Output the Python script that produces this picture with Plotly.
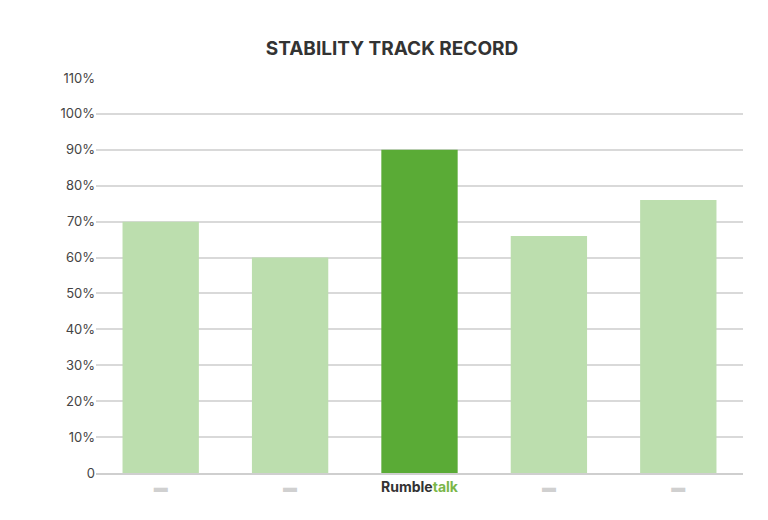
import plotly.graph_objects as go

categories = ["a", "b", "c", "d", "e"]
tick_labels = [
    "<span style='color:#d0d0d0'>▬</span>",
    "<span style='color:#d0d0d0'>▬</span>",
    "<b><span style='color:#333333'>Rumble</span><span style='color:#7ab648'>talk</span></b>",
    "<span style='color:#d0d0d0'>▬</span>",
    "<span style='color:#d0d0d0'>▬</span>",
]
values = [70, 60, 90, 66, 76]
colors = ["#bcdeae", "#bcdeae", "#5aab36", "#bcdeae", "#bcdeae"]

fig = go.Figure(go.Bar(x=categories, y=values, marker_color=colors, marker_line_width=0))

fig.update_layout(
    width=768, height=520,
    margin=dict(l=88, r=33, t=70, b=55),
    plot_bgcolor="white", paper_bgcolor="white",
    bargap=0.41,
    showlegend=False,
    title=dict(text="<b>STABILITY TRACK RECORD</b>", x=0.5, xanchor="center", y=0.935,
               font=dict(family="Inter", size=19, color="#333333")),
    font=dict(family="Inter", color="#444444"),
)
fig.update_yaxes(
    range=[0, 110], dtick=10, gridcolor="#d9d9d9", gridwidth=1.5,
    tickvals=list(range(0, 111, 10)),
    ticktext=["0"] + [f"{v}%" for v in range(10, 111, 10)],
    tickfont=dict(size=13, color="#444444"), ticks="", ticklen=0,
    zeroline=False, showline=False,
)
fig.update_xaxes(
    tickvals=categories, ticktext=tick_labels,
    tickfont=dict(size=14), showline=True, linecolor="#cfcfcf", linewidth=2,
    ticks="",
)
fig.write_html("out.html")
